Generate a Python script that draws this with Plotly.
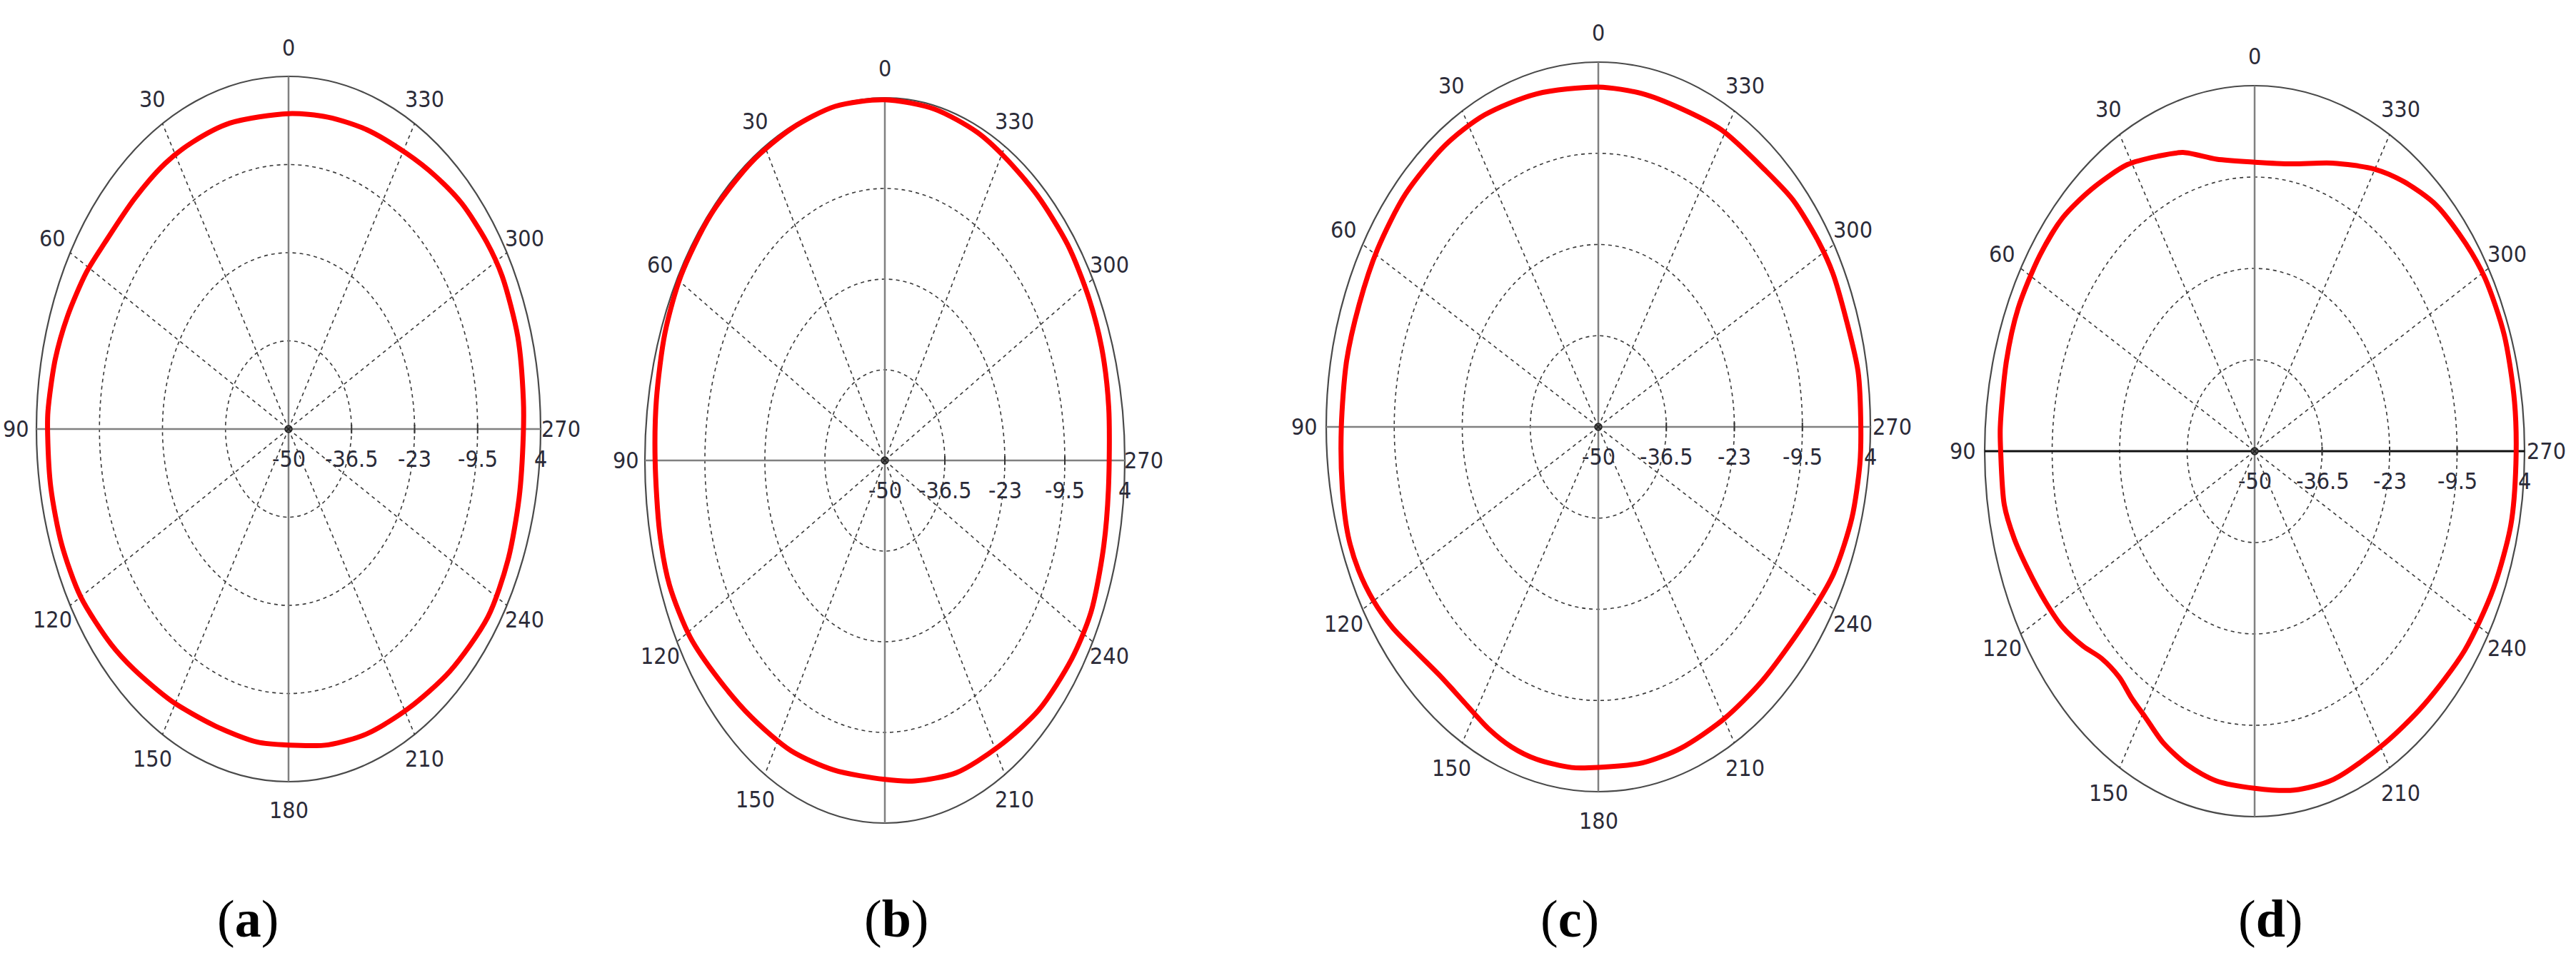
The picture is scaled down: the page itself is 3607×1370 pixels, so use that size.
import numpy as np
import plotly.graph_objects as go

# ---------------- data ----------------
R_MIN, R_MAX = -50.0, 4.0
RADIAL_TICKS = [-50, -36.5, -23, -9.5, 4]
RADIAL_LABELS = ["-50", "-36.5", "-23", "-9.5", "4"]
ANGLE_TICKS = [0, 30, 60, 90, 120, 150, 180, 210, 240, 270, 300, 330]
ANGLE_LABELS = ["0", "30", "60", "90", "120", "150", "180", "210", "240", "270", "300", "330"]
PANEL_NAMES = ["a", "b", "c", "d"]

angles_a = [0, 15, 25, 33, 43, 54, 61, 70, 78, 87, 91, 100, 110, 120, 131, 138, 149, 161, 172,
            180, 190, 200, 211, 223, 236, 247, 258, 269, 275, 286, 297, 304, 313, 321, 329, 340, 350]
gain_a = [-1.7, -1.5, -1.5, -1.5, -1.7, -1.4, -0.5, 0.4, 1.1, 1.6, 1.6, 1.7, 1.7, 1.4, 0.3, -0.5, -1.4, -1.9, -1.6,
          -1.6, -0.9, -0.4, -0.1, 0.7, 1.5, 1.1, 0.5, 0.3, 0.5, 1.1, 1.4, 1.2, 0.7, -0.1, -0.8, -1.2, -1.5]

angles_b = [0, 12, 23, 34, 47, 59, 69, 80, 90, 102, 111, 121, 131, 142, 154, 166, 180, 188, 199, 211,
            223, 235, 244, 255, 265, 279, 289, 298, 308, 319, 329, 337, 348]
gain_b = [3.7, 3.9, 3.7, 3.6, 3.6, 3.5, 3.0, 2.2, 1.7, 1.8, 1.9, 1.1, -0.4, -1.4, -1.9, -2.5, -2.5, -1.8, -0.8, -0.3,
          0.8, 1.4, 1.6, 0.9, 0.5, 1.0, 1.6, 1.9, 2.2, 2.3, 2.6, 3.1, 3.5]

angles_c = [0, 14, 26, 36, 48, 59, 69, 79, 90, 100, 108, 114, 120, 126, 133, 140, 147, 154, 160, 166,
            174, 180, 190, 199, 210, 221, 235, 245, 255, 264, 270, 279, 288, 296, 302, 311, 319, 331, 341, 350]
gain_c = [0.3, 0.8, 1.4, 1.6, 1.5, 1.1, 0.8, 0.9, 1.0, 1.6, 2.2, 2.1, 1.5, 0.5, -0.9, -1.6, -1.3, -0.3, 0.4, 0.7,
          0.7, 0.4, 0.5, 0.3, -0.1, -0.3, 0.2, 1.5, 2.1, 2.2, 2.1, 2.2, 1.7, 1.8, 1.6, 1.2, 0.4, 0.3, -0.1, 0.1]

angles_d = [0, 10, 18, 24, 31, 40, 48, 56, 66, 75, 86, 90, 99, 105, 111, 118, 124, 130, 135, 141, 146, 151,
            157, 164, 171, 180, 189, 198, 211, 222, 235, 247, 258, 268, 278, 289, 299, 306, 315, 323, 330, 340, 350]
gain_d = [-7.3, -6.2, -3.6, -2.3, -0.6, 0.6, 1.6, 1.8, 1.8, 1.4, 1.0, 0.8, 0.7, -0.2, -1.4, -2.6, -3.6, -5.2, -6.7,
          -7.0, -6.0, -5.0, -3.2, -1.7, -0.7, -0.2, 0.7, 1.0, 0.4, 0.5, 1.3, 1.9, 2.4, 2.3, 2.5, 2.8, 2.7, 2.2,
          1.4, -0.2, -1.9, -4.7, -6.9]

SERIES = {"a": (angles_a, gain_a), "b": (angles_b, gain_b), "c": (angles_c, gain_c), "d": (angles_d, gain_d)}

# ---------------- layout / style ----------------
W, H = 3607, 1370
# ellipse centre x, centre y, semi-axis x, semi-axis y (pixels)
GEOM = {"a": (404, 601, 353, 494), "b": (1239, 645, 336, 508),
        "c": (2238, 598, 381, 511), "d": (3157, 632, 378, 512)}
LETTER_X = {"a": 347, "b": 1255, "c": 2198, "d": 3179}
LETTER_Y = 1287
PAD = 1.12
LABEL_R = 1.08
TICK_FONT = dict(family="Liberation Sans Narrow, DejaVu Sans Condensed, Liberation Sans, sans-serif",
                 size=32, color="#2b2b38")
GRID_COLOR = "#3a3a3a"
GRID_DASH = "5px,5px"


def norm(r):
    return (np.asarray(r, dtype=float) - R_MIN) / (R_MAX - R_MIN)


def to_xy(theta_deg, r_norm):
    t = np.deg2rad(np.asarray(theta_deg, dtype=float))
    return -r_norm * np.sin(t), r_norm * np.cos(t)


fig = go.Figure()
shapes = []
annotations = []

for k, name in enumerate(PANEL_NAMES, start=1):
    xa = "x" if k == 1 else f"x{k}"
    ya = "y" if k == 1 else f"y{k}"
    cx, cy, rx, ry = GEOM[name]
    fig.layout[("xaxis" if k == 1 else f"xaxis{k}")] = dict(
        domain=[(cx - PAD * rx) / W, (cx + PAD * rx) / W], range=[-PAD, PAD],
        visible=False, fixedrange=True, anchor=ya)
    fig.layout[("yaxis" if k == 1 else f"yaxis{k}")] = dict(
        domain=[1 - (cy + PAD * ry) / H, 1 - (cy - PAD * ry) / H], range=[-PAD, PAD],
        visible=False, fixedrange=True, anchor=xa)

    # dashed grid ellipses
    for rv in RADIAL_TICKS[1:-1]:
        rn = float(norm(rv))
        shapes.append(dict(type="circle", xref=xa, yref=ya, x0=-rn, x1=rn, y0=-rn, y1=rn,
                           line=dict(color=GRID_COLOR, width=1.6, dash=GRID_DASH), layer="below"))
    # outer ellipse
    shapes.append(dict(type="circle", xref=xa, yref=ya, x0=-1, x1=1, y0=-1, y1=1,
                       line=dict(color="#4a4a4a", width=2.2), layer="below"))
    # spokes
    for a in ANGLE_TICKS:
        if a % 90 == 0:
            continue
        ex, ey = to_xy(a, 1.0)
        shapes.append(dict(type="line", xref=xa, yref=ya, x0=0, y0=0, x1=float(ex), y1=float(ey),
                           line=dict(color=GRID_COLOR, width=1.6, dash=GRID_DASH), layer="below"))
    # main axes
    hcol, hw = ("#111111", 3) if name == "d" else ("#808080", 2.5)
    shapes.append(dict(type="line", xref=xa, yref=ya, x0=-1, y0=0, x1=1, y1=0,
                       line=dict(color=hcol, width=hw), layer="below"))
    shapes.append(dict(type="line", xref=xa, yref=ya, x0=0, y0=-1, x1=0, y1=1,
                       line=dict(color="#808080", width=2.5), layer="below"))

    # radial tick marks on the horizontal axis
    tick_r = norm(RADIAL_TICKS[1:-1])
    fig.add_trace(go.Scatter(x=tick_r, y=np.zeros_like(tick_r), xaxis=xa, yaxis=ya, mode="markers",
                             marker=dict(symbol="line-ns", size=9, line=dict(width=2, color="#333333")),
                             hoverinfo="skip", showlegend=False))

    # pattern
    ang, gain = SERIES[name]
    ang_c = list(ang) + [ang[0]]
    gain_c = list(gain) + [gain[0]]
    px, py = to_xy(ang_c, norm(gain_c))
    fig.add_trace(go.Scatter(x=px, y=py, xaxis=xa, yaxis=ya, mode="lines",
                             line=dict(color="#ff0000", width=7, shape="spline", smoothing=0.8),
                             hoverinfo="skip", showlegend=False))

    # centre marker
    fig.add_trace(go.Scatter(x=[0], y=[0], xaxis=xa, yaxis=ya, mode="markers",
                             marker=dict(symbol="circle-x", size=10, color="#555555",
                                         line=dict(width=1.5, color="#222222")),
                             hoverinfo="skip", showlegend=False))

    # angle labels
    for a, lab in zip(ANGLE_TICKS, ANGLE_LABELS):
        if a == 180 and name in ("b", "d"):
            continue
        lx, ly = to_xy(a, LABEL_R)
        annotations.append(dict(xref=xa, yref=ya, x=float(lx), y=float(ly), text=lab, showarrow=False,
                                font=TICK_FONT, xanchor="center", yanchor="middle"))
    # radial labels
    for rv, lab in zip(RADIAL_TICKS, RADIAL_LABELS):
        annotations.append(dict(xref=xa, yref=ya, x=float(norm(rv)), y=0, text=lab, showarrow=False,
                                font=TICK_FONT, xanchor="center", yanchor="middle", yshift=-42))
    # panel letter
    annotations.append(dict(xref="paper", yref="paper", x=LETTER_X[name] / W, y=1 - LETTER_Y / H,
                            text=f"(<b>{name}</b>)", showarrow=False, xanchor="center", yanchor="middle",
                            font=dict(family="Liberation Serif, Times New Roman, serif", size=74, color="#000000")))

fig.update_layout(width=W, height=H, margin=dict(l=0, r=0, t=0, b=0),
                  paper_bgcolor="white", plot_bgcolor="white",
                  shapes=shapes, annotations=annotations, showlegend=False)

fig.write_html("out.html", config={"displayModeBar": False},
               post_script="document.body.style.margin='0px';")
